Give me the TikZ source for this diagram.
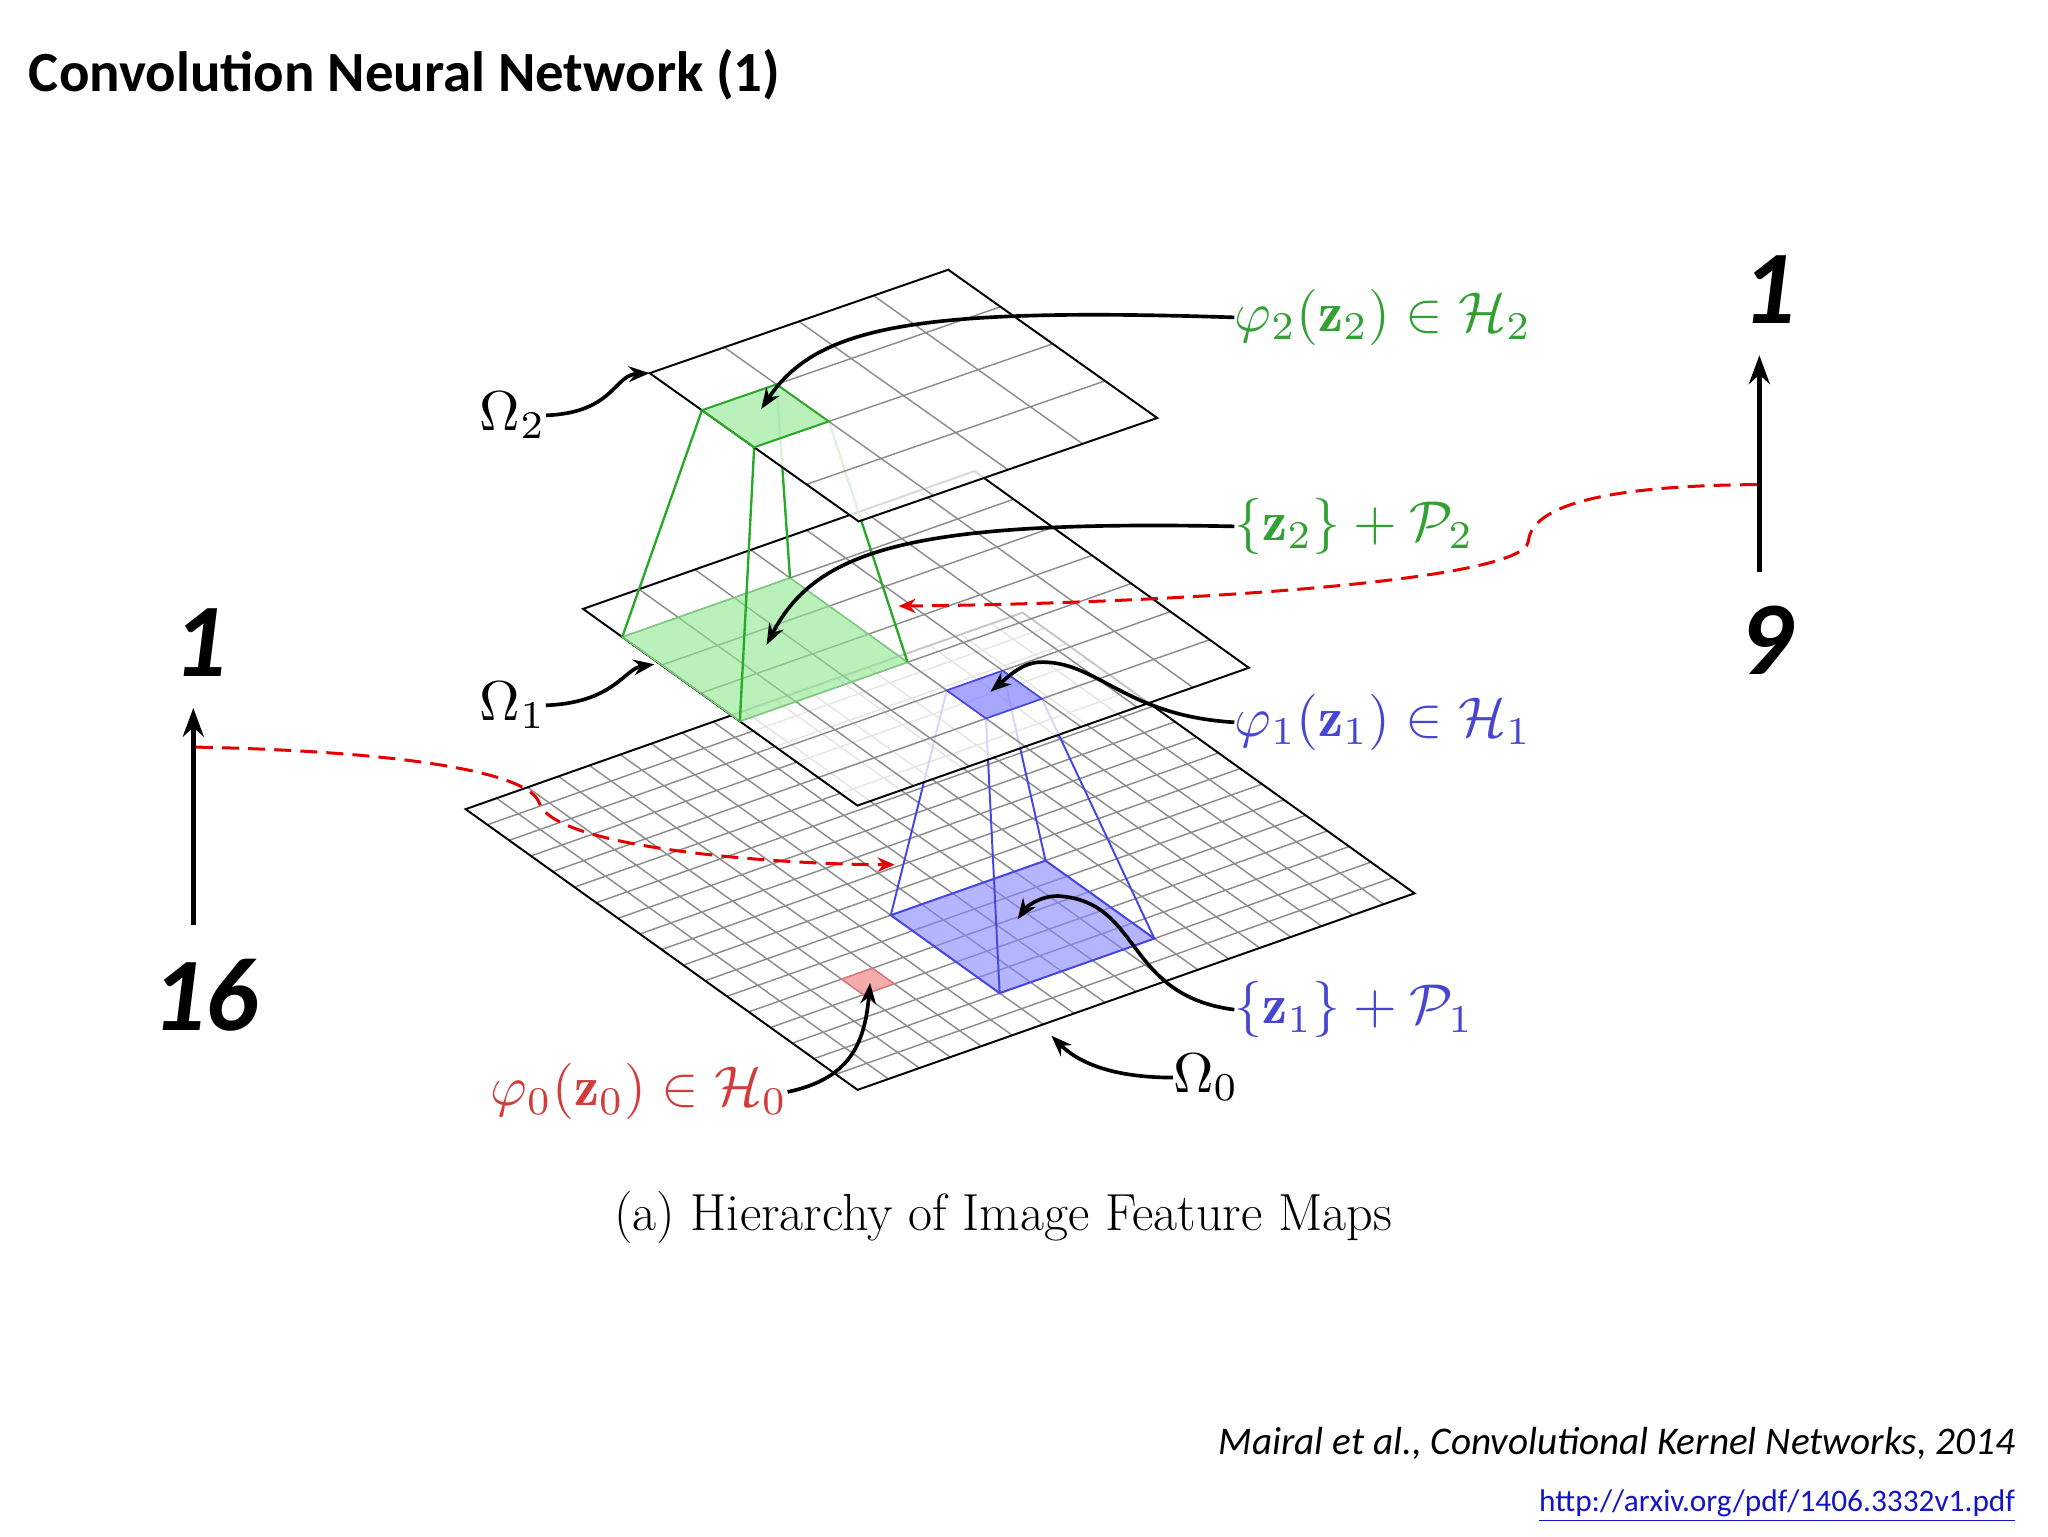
\documentclass[tikz,border=0pt]{standalone}
\usepackage{amsmath,amssymb}
\usepackage{graphicx}
\usepackage{fontspec}
\newfontfamily\carl{Carlito}
\newcommand{\mymth}[1]{\scalebox{4.3}{$#1$}}
\usetikzlibrary{arrows.meta}
\definecolor{gline}{RGB}{40,170,40}
\definecolor{gfill}{RGB}{140,230,140}
\definecolor{bline}{RGB}{70,70,230}
\definecolor{bfill}{RGB}{130,130,255}
\definecolor{rfill}{RGB}{240,150,150}
\definecolor{gtxt}{RGB}{50,160,50}
\definecolor{btxt}{RGB}{70,70,210}
\definecolor{rtxt}{RGB}{210,60,60}
\definecolor{urlc}{RGB}{20,20,200}
\tikzset{
 gridl/.style={draw=black!45,line width=1.1pt},
 conn/.style={line width=2.8pt,-{Stealth[length=16pt,width=12pt]}},
 rdash/.style={draw=red!90!black,line width=2.3pt,dash pattern=on 13pt off 7pt,-{Stealth[length=13pt,width=11pt]}},
 mlab/.style={anchor=west,inner sep=0pt},
 big/.style={font=\carl\bfseries\itshape\fontsize{80}{90}\selectfont,inner sep=0pt},
 uparr/.style={line width=4pt,-{Stealth[length=22pt,width=16pt]}}
}
\begin{document}
\begin{tikzpicture}[x=1pt,y=-1pt]
\useasboundingbox (0,0) rectangle (1568,1176);
\fill[white] (0,0) rectangle (1568,1176);
% Omega0
\begin{scope}[shift={(356.5,619.5)},x={(23.69pt,8.36pt)},y={(16.67pt,-11.94pt)}]
 \fill[white] (0,0)--(18,0)--(18,18)--(0,18)--cycle;
 \foreach \i in {1,...,17}{\draw[gridl] (\i,0)--(\i,18); \draw[gridl] (0,\i)--(18,\i);}
 \draw[line width=1.5pt] (0,0)--(18,0)--(18,18)--(0,18)--cycle;
 \fill[bfill,opacity=0.6] (6,11)--(11,11)--(11,16)--(6,16)--cycle;
 \draw[bline,line width=1.5pt] (6,11)--(11,11)--(11,16)--(6,16)--cycle;
 \fill[rfill,opacity=0.8] (3,13)--(4,13)--(4,14)--(3,14)--cycle;
 \draw[rtxt!70,line width=1pt] (3,13)--(4,13)--(4,14)--(3,14)--cycle;
 \coordinate (b0a) at (6,11); \coordinate (b0b) at (11,11);
 \coordinate (b0c) at (11,16); \coordinate (b0d) at (6,16);
 \coordinate (red0) at (3.5,13.6);
\end{scope}
\begin{scope}[shift={(446.4,466.2)},x={(42.81pt,15.07pt)},y={(30.01pt,-21.51pt)}]
 \coordinate (b1a) at (3,5); \coordinate (b1b) at (4,5);
 \coordinate (b1c) at (4,6); \coordinate (b1d) at (3,6);
\end{scope}
\draw[bline,line width=1.5pt] (b1a)--(b0a) (b1b)--(b0b) (b1c)--(b0c) (b1d)--(b0d);
% Omega1
\begin{scope}[shift={(446.4,466.2)},x={(42.81pt,15.07pt)},y={(30.01pt,-21.51pt)}]
 \fill[white,opacity=0.78] (0,0)--(7,0)--(7,7)--(0,7)--cycle;
 \foreach \i in {1,...,6}{\draw[gridl] (\i,0)--(\i,7); \draw[gridl] (0,\i)--(7,\i);}
 \draw[line width=1.5pt] (0,0)--(7,0)--(7,7)--(0,7)--cycle;
 \fill[gfill,opacity=0.6] (0,1)--(3,1)--(3,4)--(0,4)--cycle;
 \draw[gline!60,line width=1pt] (0,1)--(3,1)--(3,4)--(0,4)--cycle;
 \fill[bfill,opacity=0.7] (3,5)--(4,5)--(4,6)--(3,6)--cycle;
 \draw[bline,line width=1.2pt] (3,5)--(4,5)--(4,6)--(3,6)--cycle;
 \coordinate (g1a) at (0,1); \coordinate (g1b) at (3,1);
 \coordinate (g1c) at (3,4); \coordinate (g1d) at (0,4);
 \coordinate (p2t) at (1.6,2.4);
 \coordinate (p1t) at (3.5,5.4);
\end{scope}
\begin{scope}[shift={(497.4,285.7)},x={(57.15pt,19.8pt)},y={(40pt,-28.375pt)}]
 \coordinate (g2a) at (0,1); \coordinate (g2b) at (1,1);
 \coordinate (g2c) at (1,2); \coordinate (g2d) at (0,2);
\end{scope}
\draw[gline,line width=1.8pt] (g2a)--(g1a) (g2b)--(g1b) (g2c)--(g1c) (g2d)--(g1d);
% Omega2
\begin{scope}[shift={(497.4,285.7)},x={(57.15pt,19.8pt)},y={(40pt,-28.375pt)}]
 \fill[white,opacity=0.85] (0,0)--(4,0)--(4,4)--(0,4)--cycle;
 \foreach \i in {1,...,3}{\draw[gridl] (\i,0)--(\i,4); \draw[gridl] (0,\i)--(4,\i);}
 \draw[line width=1.5pt] (0,0)--(4,0)--(4,4)--(0,4)--cycle;
 \fill[gfill,opacity=0.6] (0,1)--(1,1)--(1,2)--(0,2)--cycle;
 \draw[gline,line width=1.5pt] (0,1)--(1,1)--(1,2)--(0,2)--cycle;
 \coordinate (z2t) at (0.55,1.35);
 \coordinate (om2) at (0,0);
\end{scope}
\coordinate (om1) at (501,508.6);
\coordinate (om0) at (805,793);
\coordinate (p1b) at (779,704);
% labels
\node[mlab,text=gtxt] (l2) at (945,243) {\mymth{\varphi_2(\mathbf{z}_2)\in\mathcal{H}_2}};
\node[mlab,text=gtxt] (l2p) at (945,403) {\mymth{\{\mathbf{z}_2\}+\mathcal{P}_2}};
\node[mlab,text=btxt] (l1) at (945,553) {\mymth{\varphi_1(\mathbf{z}_1)\in\mathcal{H}_1}};
\node[mlab,text=btxt] (l1p) at (945,773) {\mymth{\{\mathbf{z}_1\}+\mathcal{P}_1}};
\node[mlab] (o0) at (898,825) {\mymth{\Omega_0}};
\node[mlab,anchor=east,text=rtxt] (l0) at (603,836) {\mymth{\varphi_0(\mathbf{z}_0)\in\mathcal{H}_0}};
\node[mlab,anchor=east] (o2) at (418,318) {\mymth{\Omega_2}};
\node[mlab,anchor=east] (o1) at (418,540) {\mymth{\Omega_1}};
\node[font=\fontsize{40}{44}\selectfont,inner sep=0pt] (cap) at (768,932) {(a) Hierarchy of Image Feature Maps};
% connectors
\draw[conn] (l2.west) .. controls (700,235) and (625,250) .. (z2t);
\draw[conn] (l2p.west) .. controls (700,398) and (625,420) .. (p2t);
\draw[conn] (l1.west) .. controls (860,548) and (840,505) .. (795,507) .. controls (782,508) and (772,518) .. (p1t);
\draw[conn] (l1p.west) .. controls (860,762) and (875,690) .. (810,686) .. controls (796,686) and (786,694) .. (p1b);
\draw[conn] (o0.west) .. controls (845,825) and (822,810) .. (om0);
\draw[conn] (l0.east) .. controls (650,826) and (662,800) .. (red0);
\draw[conn] (o2.east) .. controls (470,316) and (470,287) .. (om2);
\draw[conn] (o1.east) .. controls (470,538) and (478,512) .. (om1);
% right / left annotations
\node[big] (n1r) at (1354,222) {1};
\node[big] (n9) at (1352,490) {9};
\node[big] (n1l) at (153,492) {1};
\node[big] (n16) at (157,762) {16};
\coordinate (ar1) at (1347,438); \coordinate (ar2) at (1347,272);
\coordinate (al1) at (148,708); \coordinate (al2) at (148,542);
\draw[uparr] (ar1)--(ar2);
\draw[uparr] (al1)--(al2);
\coordinate (rs) at (1345,371); \coordinate (re) at (688,464);
\coordinate (ls) at (150,572); \coordinate (le) at (685,662);
\draw[rdash] (rs) .. controls (1210,372) and (1172,392) .. (1170,415) .. controls (1165,445) and (900,462) .. (re);
\draw[rdash] (ls) .. controls (300,575) and (405,590) .. (413,615) .. controls (425,650) and (600,662) .. (le);
% title and refs
\node[anchor=west,font=\carl\bfseries\fontsize{43.5}{48}\selectfont,inner sep=0pt] (title) at (22,57) {Convolution Neural Network (1)};
\node[anchor=east,font=\carl\itshape\fontsize{30}{34}\selectfont,inner sep=0pt] (cite) at (1543,1105) {Mairal et al., Convolutional Kernel Networks, 2014};
\node[anchor=east,font=\carl\fontsize{24}{28}\selectfont,inner sep=0pt,text=urlc] (url) at (1543,1153) {\underline{http://arxiv.org/pdf/1406.3332v1.pdf}};
\end{tikzpicture}
\end{document}
